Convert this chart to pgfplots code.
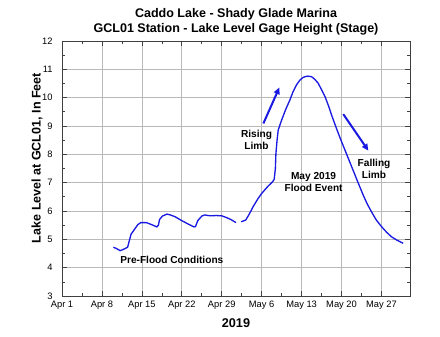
\documentclass[border=0pt]{standalone}
\usepackage{fontspec}
\setmainfont{Liberation Sans}
\usepackage{pgfplots}
\pgfplotsset{compat=1.18}
\usetikzlibrary{arrows.meta}
\definecolor{lineblue}{RGB}{25,25,225}
\begin{document}
\begin{tikzpicture}
\begin{axis}[
  name=ax,
  at={(0,0)}, anchor=south west,
  scale only axis,
  width=261pt, height=191.25pt,
  xmin=0, xmax=61, ymin=3, ymax=12,
  xtick={0,7,14,21,28,35,42,49,56},
  xticklabels={Apr 1,Apr 8,Apr 15,Apr 22,Apr 29,May 6,May 13,May 20,May 27},
  ytick={3,4,...,12},
  minor x tick num=1, minor y tick num=1,
  grid=major,
  major grid style={gray!55, line width=0.5pt},
  axis line style={black!75, line width=0.6pt},
  tick style={black!75, line width=0.5pt},
  major tick length=4pt, minor tick length=2pt,
  tick label style={font=\fontsize{7}{8}\selectfont},
  /pgf/number format/assume math mode=true,
  yticklabel style={xshift=-3.5pt},
  xticklabel style={yshift=-0.5pt},
  xlabel={2019},
  xlabel style={font=\fontsize{9.5}{11}\bfseries, at={([yshift=-20.25pt]axis description cs:0.5,0)}, anchor=center},
  ylabel={Lake Level at GCL01, In Feet},
  ylabel style={font=\fontsize{9.4}{11}\bfseries, at={([xshift=-18.75pt]axis description cs:0,0.541)}, anchor=center},
  unbounded coords=jump,
  clip=false,
]
\addplot[lineblue, line width=1pt] coordinates {
(9.0,4.72) (9.5,4.68) (10.2,4.60) (10.8,4.65) (11.5,4.72) (11.8,4.95) (12.1,5.18)
(12.7,5.35) (13.3,5.52) (13.8,5.59) (14.8,5.59) (15.7,5.52) (16.6,5.44) (16.9,5.50)
(17.1,5.70) (17.6,5.82) (18.4,5.89) (19.0,5.86) (19.8,5.80) (21.0,5.66) (22.2,5.53)
(23.1,5.44) (23.4,5.45) (23.8,5.66) (24.5,5.82) (25.0,5.86) (26.0,5.83) (27.0,5.84)
(28.0,5.83) (28.8,5.77) (29.6,5.70) (30.5,5.59)
(30.9,nan)
(31.4,5.62) (32.2,5.68) (32.8,5.88) (33.5,6.15) (34.3,6.42) (35.0,6.62) (36.0,6.85)
(36.9,7.03) (37.2,7.12) (37.4,7.5) (37.5,8.04) (37.7,8.5) (37.9,8.86) (38.5,9.21)
(39.2,9.58) (39.95,9.92) (40.5,10.21) (41.1,10.45) (41.7,10.62) (42.3,10.72)
(43.0,10.76) (43.75,10.74) (44.3,10.65) (44.9,10.51) (45.5,10.28) (46.1,10.04)
(46.7,9.72) (47.25,9.39) (48.1,8.92) (48.8,8.55) (49.6,8.15) (50.3,7.8) (51.0,7.45)
(51.9,7.0) (52.8,6.56) (53.5,6.25) (54.25,5.97) (55.1,5.68) (56.0,5.45) (56.9,5.25)
(57.75,5.09) (58.8,4.96) (59.8,4.86)
};
\draw[lineblue, line width=1.5pt, -{Triangle[length=5pt,width=4.5pt]}] (axis cs:35.3,9.09) -- (axis cs:38.1,10.36);
\draw[lineblue, line width=1.5pt, -{Triangle[length=5pt,width=4.5pt]}] (axis cs:49.3,9.42) -- (axis cs:53.7,8.13);
\node[font=\fontsize{7.6}{9}\bfseries, align=center] at (axis cs:34.1,8.5) {Rising\\Limb};
\node[font=\fontsize{7.6}{9}\bfseries, align=center] at (axis cs:44.1,7.03) {May 2019\\Flood Event};
\node[font=\fontsize{7.6}{9}\bfseries, align=center] at (axis cs:54.7,7.47) {Falling\\Limb};
\node[font=\fontsize{7.6}{9}\bfseries] at (axis cs:19.25,4.27) {Pre-Flood Conditions};
\node[font=\fontsize{9.4}{11}\bfseries] at ([yshift=20.25pt]rel axis cs:0.5,1) {Caddo Lake - Shady Glade Marina};
\node[font=\fontsize{9.4}{11}\bfseries] at ([yshift=9pt]rel axis cs:0.5,1) {GCL01 Station - Lake Level Gage Height (Stage)};
\end{axis}
\pgfresetboundingbox
\path[use as bounding box] (ax.south west) ++(-46.5pt,-30.75pt) rectangle ([xshift=22.5pt,yshift=30.75pt]ax.north east);
\end{tikzpicture}
\end{document}
